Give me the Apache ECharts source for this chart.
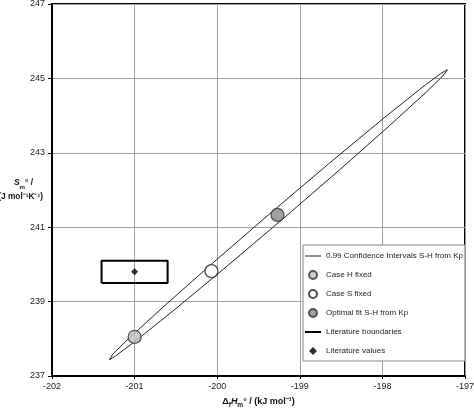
<!DOCTYPE html>
<html>
<head>
<meta charset="utf-8">
<script src="https://cdn.jsdelivr.net/npm/echarts@6/dist/echarts.min.js"></script>
<style>html,body{margin:0;padding:0;background:#fff}#c{width:474px;height:408px}</style>
</head>
<body>
<div id="c"></div>
<script>
// X ticks and Y ticks
const xTicks = [-202, -201, -200, -199, -198, -197];
const yTicks = [237, 239, 241, 243, 245, 247];
// 0.99 confidence interval contour
const ciH = [-197.213, -197.217, -197.270, -197.464, -197.909, -198.517, -199.216, -199.921, -200.547, -201.018, -201.234, -201.305, -201.317,
             -201.313, -201.260, -201.066, -200.621, -200.013, -199.314, -198.609, -197.983, -197.512, -197.296, -197.225, -197.213];
const ciS = [245.228, 245.202, 245.062, 244.642, 243.739, 242.544, 241.203, 239.878, 238.727, 237.891, 237.532, 237.436, 237.432,
             237.458, 237.598, 238.018, 238.921, 240.116, 241.457, 242.782, 243.933, 244.769, 245.128, 245.224, 245.228];
const caseH = [[-201.0, 238.05]];
const caseS = [[-200.07, 239.82]];
const optimal = [[-199.27, 241.33]];
const litBoxH = [-201.4, -200.6, -200.6, -201.4, -201.4];
const litBoxS = [239.5, 239.5, 240.1, 240.1, 239.5];
const litValues = [[-201.0, 239.8]];

const ci = ciH.map((h, i) => [h, ciS[i]]);
const box = litBoxH.map((h, i) => [h, litBoxS[i]]);

const font = 'Liberation Sans, Arial, sans-serif';
const names = ['0.99 Confidence Intervals S-H from Kp', 'Case H fixed', 'Case S fixed',
               'Optimal fit S-H from Kp', 'Literature boundaries', 'Literature values'];
const chart = echarts.init(document.getElementById('c'), null, {renderer: 'canvas'});
chart.setOption({
  animation: false,
  backgroundColor: '#fff',
  grid: {left: 52, right: 9, top: 4, bottom: 32, show: true, borderColor: '#000', borderWidth: 2,
         containLabel: false, outerBoundsMode: 'none'},
  xAxis: {
    type: 'value', min: xTicks[0], max: xTicks[xTicks.length - 1], interval: 1,
    axisLine: {lineStyle: {color: '#000', width: 2}},
    axisTick: {show: true, length: 3, lineStyle: {color: '#000'}},
    axisLabel: {fontSize: 9, color: '#222', fontFamily: font, margin: 6},
    splitLine: {show: true, lineStyle: {color: '#a0a0a0', width: 1}},
    name: '{b|Δ}{sub|f}{i|H}{sub|m}{b|° / (kJ mol⁻¹)}',
    nameLocation: 'middle', nameGap: 19, nameMoveOverlap: false,
    nameTextStyle: {
      fontFamily: font,
      rich: {
        b: {fontSize: 9, fontWeight: 'bold', color: '#111', fontFamily: font, lineHeight: 14},
        i: {fontSize: 9, fontWeight: 'bold', fontStyle: 'italic', color: '#111', fontFamily: font, lineHeight: 14},
        sub: {fontSize: 6.5, fontWeight: 'bold', color: '#111', fontFamily: font, verticalAlign: 'bottom', lineHeight: 8}
      }
    }
  },
  yAxis: {
    type: 'value', min: yTicks[0], max: yTicks[yTicks.length - 1], interval: 2,
    axisLine: {lineStyle: {color: '#000', width: 2}},
    axisTick: {show: true, length: 4, lineStyle: {color: '#000'}},
    axisLabel: {fontSize: 9, color: '#222', fontFamily: font, margin: 7},
    splitLine: {show: true, lineStyle: {color: '#a0a0a0', width: 1}},
    name: '{i|S}{sub|m}{b|° /}{sp|}\n{b|(J mol⁻¹K⁻¹)}',
    nameLocation: 'middle', nameGap: 9, nameRotate: 0, nameMoveOverlap: false,
    nameTextStyle: {
      fontFamily: font,
      rich: {
        b: {fontSize: 8.3, fontWeight: 'bold', color: '#111', fontFamily: font, lineHeight: 14},
        i: {fontSize: 8.5, fontWeight: 'bold', fontStyle: 'italic', color: '#111', fontFamily: font, lineHeight: 14},
        sub: {fontSize: 6.2, fontWeight: 'bold', color: '#111', fontFamily: font, verticalAlign: 'bottom', lineHeight: 8},
        sp: {width: 10, lineHeight: 14}
      }
    }
  },
  legend: {
    orient: 'vertical', left: 303, top: 245,
    backgroundColor: '#fff', borderColor: '#888', borderWidth: 1,
    padding: [4, 2, 3, 2], itemWidth: 16, itemHeight: 8, itemGap: 5,
    textStyle: {fontSize: 8, color: '#222', fontFamily: font, lineHeight: 14},
    data: [
      {name: names[0], icon: 'path://M0,0 H16 V1 H0 Z', itemStyle: {color: '#222', borderWidth: 0}},
      {name: names[1], icon: 'circle'},
      {name: names[2], icon: 'circle'},
      {name: names[3], icon: 'circle'},
      {name: names[4], icon: 'path://M0,0 H16 V2 H0 Z', itemStyle: {color: '#000', borderWidth: 0}},
      {name: names[5], icon: 'path://M4,0 L8,4 L4,8 L0,4 Z', itemStyle: {color: '#000', borderWidth: 0}}
    ]
  },
  series: [
    {name: names[0], type: 'line', data: ci, symbol: 'none', smooth: false,
     lineStyle: {color: '#222', width: 1}, itemStyle: {color: '#222'}, z: 2},
    {name: names[1], type: 'scatter', data: caseH, symbol: 'circle', symbolSize: 13,
     itemStyle: {color: '#c0c0c0', borderColor: '#333', borderWidth: 1.3}, z: 5},
    {name: names[2], type: 'scatter', data: caseS, symbol: 'circle', symbolSize: 13,
     itemStyle: {color: '#fff', borderColor: '#222', borderWidth: 1.3}, z: 5},
    {name: names[3], type: 'scatter', data: optimal, symbol: 'circle', symbolSize: 13,
     itemStyle: {color: '#8a8a8a', borderColor: '#333', borderWidth: 1.3}, z: 5},
    {name: names[4], type: 'line', data: box, symbol: 'none',
     lineStyle: {color: '#000', width: 2}, itemStyle: {color: '#000'}, z: 3},
    {name: names[5], type: 'scatter', data: litValues, symbol: 'diamond', symbolSize: 7,
     itemStyle: {color: '#000'}, z: 6}
  ]
});
</script>
</body>
</html>
